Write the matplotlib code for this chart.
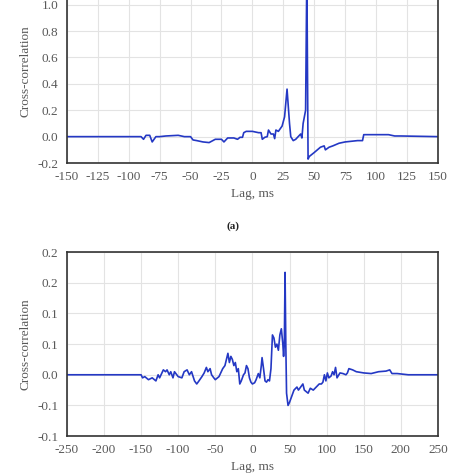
import matplotlib
matplotlib.use('Agg')
from matplotlib import pyplot as plt
import matplotlib.ticker as mticker

# panel (a): lag in ms vs cross-correlation
lag_a = [-150, -90, -88, -86, -83, -81, -78, -75, -70, -60, -55, -50, -48, -45, -40, -35,
         -30, -25, -23, -20, -15, -12, -10, -8, -7, -5, 0, 5, 7, 8, 10, 12, 13, 15, 17, 18,
         19, 21, 24, 26, 28, 30, 31, 33, 35, 37, 39, 40, 41, 43, 44, 45, 46, 50, 55, 58,
         59, 62, 65, 70, 75, 85, 89, 90, 95, 110, 115, 120, 150]
val_a = [0, 0, -0.02, 0.01, 0.01, -0.04, 0, 0, 0.005, 0.01, 0, 0, -0.025, -0.03, -0.04, -0.045,
         -0.02, -0.02, -0.04, -0.01, -0.01, -0.02, -0.005, -0.005, 0.03, 0.04, 0.04, 0.03, 0.03,
         -0.02, -0.005, 0, 0.05, 0.02, 0.02, -0.015, 0.05, 0.04, 0.08, 0.15, 0.36, 0.1, 0,
         -0.03, -0.02, 0, 0.02, -0.01, 0.1, 0.2, 1.25, -0.17, -0.15, -0.12, -0.08, -0.07,
         -0.1, -0.08, -0.07, -0.05, -0.04, -0.03, -0.03, 0.015, 0.015, 0.015, 0.005, 0.005, 0]

# panel (b)
lag_b = [-250, -150, -148, -145, -140, -135, -130, -127, -125, -120, -117, -115, -112, -110,
         -107, -105, -100, -95, -92, -88, -85, -82, -78, -75, -72, -68, -65, -62, -60, -57,
         -55, -52, -50, -45, -40, -37, -35, -33, -31, -29, -27, -25, -23, -21, -19, -17, -15,
         -12, -10, -8, -6, -4, -2, 0, 3, 5, 8, 10, 12, 13, 15, 17, 19, 21, 23, 25, 27, 29,
         31, 33, 35, 37, 39, 41, 42, 43, 44, 45, 46, 48, 50, 53, 56, 60, 62, 65, 68, 70, 75,
         78, 82, 86, 90, 93, 95, 97, 99, 101, 103, 106, 108, 110, 112, 114, 118, 122, 126,
         128, 130, 135, 140, 150, 160, 170, 180, 185, 188, 195, 210, 250]
val_b = [0, 0, -0.005, -0.003, -0.008, -0.005, -0.01, 0, -0.005, 0.008, 0.005, 0.008, 0,
         0.005, -0.005, 0.005, -0.003, -0.005, 0.005, 0.008, 0, 0.005, -0.01, -0.015, -0.01,
         -0.003, 0.003, 0.012, 0.005, 0.01, 0, -0.005, -0.008, -0.003, 0.01, 0.015, 0.025,
         0.035, 0.02, 0.03, 0.025, 0.015, 0.02, 0.005, 0.01, -0.015, -0.01, 0, 0.003, 0.015,
         0.01, -0.005, -0.012, -0.015, -0.013, -0.008, 0.002, -0.005, 0.015, 0.028, 0.01,
         -0.01, -0.012, -0.008, -0.01, 0.01, 0.065, 0.06, 0.045, 0.05, 0.04, 0.065, 0.075,
         0.05, 0.03, 0.05, 0.167, 0.05, -0.03, -0.05, -0.045, -0.035, -0.025, -0.02, -0.025,
         -0.02, -0.015, -0.025, -0.03, -0.022, -0.025, -0.02, -0.015, -0.015, -0.012, 0,
         -0.01, 0.003, -0.005, -0.002, 0.005, 0, 0.012, -0.005, 0.003, 0.002, 0, 0.003, 0.01,
         0.008, 0.005, 0.003, 0.002, 0.005, 0.006, 0.008, 0.002, 0.002, 0, 0]

plt.rcParams['font.family'] = ['Liberation Serif', 'DejaVu Serif']
plt.rcParams['axes.unicode_minus'] = False
txt = '#595959'
line_c = '#2438c4'

fig = plt.figure(figsize=(4.74, 4.74), dpi=100)
ax1 = fig.add_axes([0.141, 0.656, 0.783, 0.390])
ax2 = fig.add_axes([0.141, 0.080, 0.783, 0.388])

def style(ax):
    ax.grid(True, color='#e3e3e3', linewidth=0.8)
    ax.set_axisbelow(True)
    for s in ax.spines.values():
        s.set_color('#333333')
        s.set_linewidth(1.2)
    ax.tick_params(length=0, colors=txt, labelsize=9.5, pad=6)
    ax.set_xlabel('Lag, ms', color=txt, fontsize=9.5, labelpad=3)
    ax.set_ylabel('Cross-correlation', color=txt, fontsize=9.5)

ax1.plot(lag_a, val_a, color=line_c, linewidth=1.2)
ax1.set_xlim(-150, 150)
ax1.set_ylim(-0.2, 1.2)
ax1.set_xticks(range(-150, 151, 25))
ax1.set_yticks([-0.2, 0, 0.2, 0.4, 0.6, 0.8, 1.0, 1.2])
ax1.yaxis.set_major_formatter(mticker.FormatStrFormatter('%.1f'))
style(ax1)

ax2.plot(lag_b, val_b, color=line_c, linewidth=1.2)
ax2.set_xlim(-250, 250)
ax2.set_ylim(-0.1, 0.2)
ax2.set_xticks(range(-250, 251, 50))
ax2.set_yticks([-0.1, -0.05, 0, 0.05, 0.1, 0.15, 0.2])
ax2.set_yticklabels(['-0.1', '-0.1', '0.0', '0.1', '0.1', '0.2', '0.2'])
style(ax2)

fig.text(0.492, 0.517, '(a)', fontsize=8, fontweight='bold', color='#222222', ha='center')

fig.savefig('out.png', dpi=100)
